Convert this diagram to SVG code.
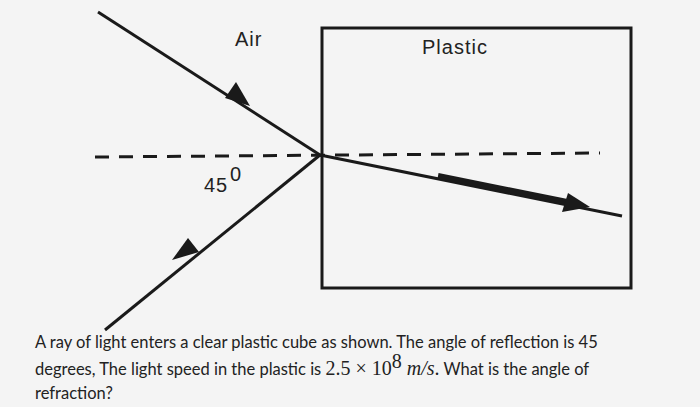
<svg xmlns="http://www.w3.org/2000/svg" width="700" height="407" viewBox="0 0 700 407">
<style>
.ray{stroke:#1a1a1a;stroke-width:3;fill:none}
.lbl{font-family:"Liberation Sans",Arial,sans-serif;font-size:20px;fill:#222;letter-spacing:1px}
.q{font-family:Lato,"Liberation Sans",sans-serif;font-size:16.5px;fill:#222}
.m{font-family:"Liberation Serif",serif;font-size:20px;fill:#222}
</style>
<rect width="700" height="407" fill="#f4f4f4"/>
<g id="cube"><rect x="322" y="28" width="309" height="260" fill="none" stroke="#1a1a1a" stroke-width="3"/></g>
<g id="connectors">
<line x1="95" y1="157" x2="600" y2="153" stroke="#1a1a1a" stroke-width="3" stroke-dasharray="14,10"/>
<line class="ray" x1="98" y1="12" x2="320" y2="155"/>
<polygon points="250,106 225,98 236,82" fill="#1a1a1a"/>
<line class="ray" x1="320" y1="155" x2="105" y2="330"/>
<polygon points="172,260 188,238 199,252" fill="#1a1a1a"/>
<line class="ray" x1="320" y1="155" x2="622" y2="216"/>
<line x1="438" y1="176" x2="572" y2="203" stroke="#1a1a1a" stroke-width="6"/>
<polygon points="590,207 562,212 568,193" fill="#1a1a1a"/>
</g>
<g id="labels">
<text class="lbl" x="235" y="46">Air</text>
<text class="lbl" x="422" y="54">Plastic</text>
<text class="lbl" x="204" y="192">45</text>
<text class="lbl" x="230" y="181" font-size="12">0</text>
</g>
<g id="question">
<text class="q" x="35" y="348">A ray of light enters a clear plastic cube as shown. The angle of reflection is 45</text>
<text class="q" x="35" y="375">degrees, The light speed in the plastic is <tspan class="m">2.5 × 10</tspan><tspan class="m" font-size="11" dy="-7">8</tspan><tspan class="m" font-style="italic" dy="7"> m/s</tspan><tspan class="m">.</tspan> What is the angle of</text>
<text class="q" x="35" y="399">refraction?</text>
</g>
</svg>
